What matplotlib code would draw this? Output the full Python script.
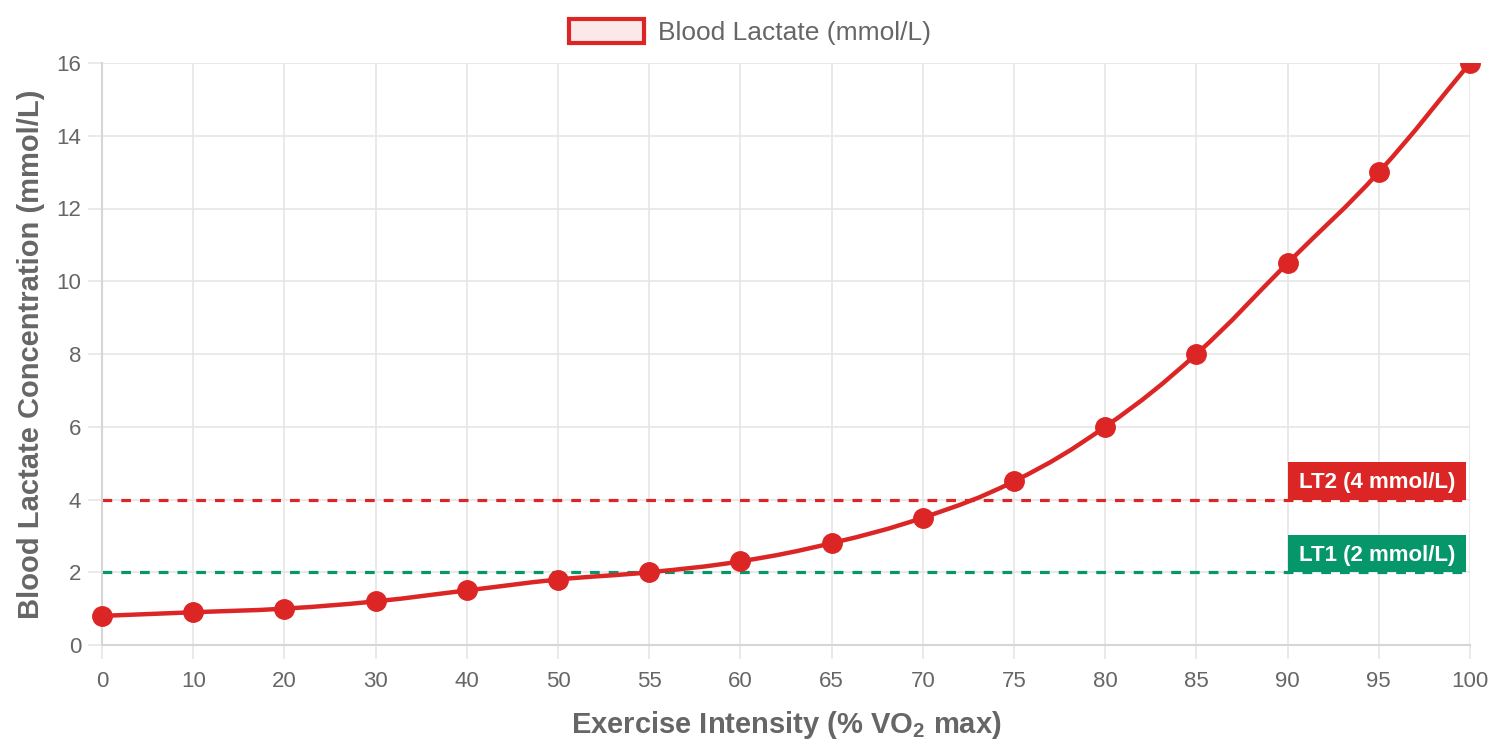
import matplotlib
matplotlib.use("Agg")
import matplotlib.pyplot as plt
import numpy as np
from matplotlib.path import Path
from matplotlib.patches import PathPatch, Patch, Rectangle

plt.rcParams['font.family'] = ['Liberation Sans', 'DejaVu Sans']
plt.rcParams['mathtext.fontset'] = 'custom'
plt.rcParams['mathtext.rm'] = 'Liberation Sans'
plt.rcParams['mathtext.bf'] = 'Liberation Sans:bold'
plt.rcParams['lines.scale_dashes'] = False

# data
intensity = ['0', '10', '20', '30', '40', '50', '55', '60', '65', '70',
             '75', '80', '85', '90', '95', '100']
lactate = [0.8, 0.9, 1.0, 1.2, 1.5, 1.8, 2.0, 2.3, 2.8, 3.5,
           4.5, 6.0, 8.0, 10.5, 13.0, 16.0]
thresholds = [4, 2]
threshold_labels = ['LT2 (4 mmol/L)', 'LT1 (2 mmol/L)']

RED = '#dc2626'
GREEN = '#059669'
GRAY = '#666666'
threshold_colors = [RED, GREEN]

fig = plt.figure(figsize=(15, 7.5), dpi=100)
ax = fig.add_axes([0.068, 0.14, 0.912, 0.776])
ax.set_xlim(0, len(intensity) - 1)
ax.set_ylim(0, 16)
ax.set_yticks(np.arange(0, 17, 2))
ax.set_xticks(range(len(intensity)))
ax.set_xticklabels(intensity)

ax.grid(True, color='#e6e6e6', lw=1.2, zorder=0)
ax.set_axisbelow(True)
for s in ['top', 'right']:
    ax.spines[s].set_visible(False)
for s in ['left', 'bottom']:
    ax.spines[s].set_color('#d6d6d6')
    ax.spines[s].set_linewidth(1.5)
ax.tick_params(axis='both', colors='#e6e6e6', labelcolor=GRAY, labelsize=16, width=1.2)
ax.tick_params(axis='y', length=10, pad=5)
ax.tick_params(axis='x', length=10, pad=9)

ax.set_xlabel(r'Exercise Intensity (% VO$_\mathbf{2}$ max)', fontsize=21,
              fontweight='bold', color=GRAY, labelpad=12)
ax.set_ylabel('Blood Lactate Concentration (mmol/L)', fontsize=21,
              fontweight='bold', color=GRAY, labelpad=8)

# threshold lines with labels
for val, lab, col in zip(thresholds, threshold_labels, threshold_colors):
    ax.axhline(val, color=col, lw=2.3, dashes=(7, 6.5), zorder=2)
    ax.add_patch(Rectangle((13.0, val), 1.96, 1.02, facecolor=col,
                           edgecolor='none', zorder=3))
    ax.text(13.98, val + 0.47, lab, color='white', fontsize=16, fontweight='bold',
            ha='center', va='center', zorder=4)

# smooth curve like Chart.js (tension 0.4), computed in pixel space
fig.canvas.draw()
xs = np.arange(len(lactate))
pts = ax.transData.transform(np.column_stack([xs, lactate]))
t = 0.4
n = len(pts)
cp_in = np.zeros_like(pts)
cp_out = np.zeros_like(pts)
for i in range(n):
    prev = pts[max(i - 1, 0)]
    cur = pts[i]
    nxt = pts[min(i + 1, n - 1)]
    d01 = np.hypot(*(cur - prev))
    d12 = np.hypot(*(nxt - cur))
    s01 = d01 / (d01 + d12) if d01 + d12 else 0
    s12 = d12 / (d01 + d12) if d01 + d12 else 0
    cp_in[i] = cur - t * s01 * (nxt - prev)
    cp_out[i] = cur + t * s12 * (nxt - prev)

verts = [pts[0]]
codes = [Path.MOVETO]
for i in range(n - 1):
    verts += [cp_out[i], cp_in[i + 1], pts[i + 1]]
    codes += [Path.CURVE4] * 3
verts = ax.transData.inverted().transform(np.array(verts))
clip = Rectangle((-0.03, -0.05), 1.06, 1.05, transform=ax.transAxes,
                 facecolor='none', edgecolor='none')
curve = PathPatch(Path(verts, codes), facecolor='none', edgecolor=RED, lw=3.2,
                  zorder=5, clip_on=True)
ax.add_patch(curve)
curve.set_clip_path(clip)
marks, = ax.plot(xs, lactate, 'o', color=RED, markersize=14, zorder=6)
marks.set_clip_path(clip)

handle = Patch(facecolor=(220 / 255, 38 / 255, 38 / 255, 0.1), edgecolor=RED, lw=3)
fig.legend(handles=[handle], labels=['Blood Lactate (mmol/L)'], loc='center',
           bbox_to_anchor=(0.5, 0.957), frameon=False, fontsize=19,
           handlelength=2.85, handleheight=1.0, handletextpad=0.55,
           labelcolor=GRAY)

fig.savefig('out.png', dpi=100)
